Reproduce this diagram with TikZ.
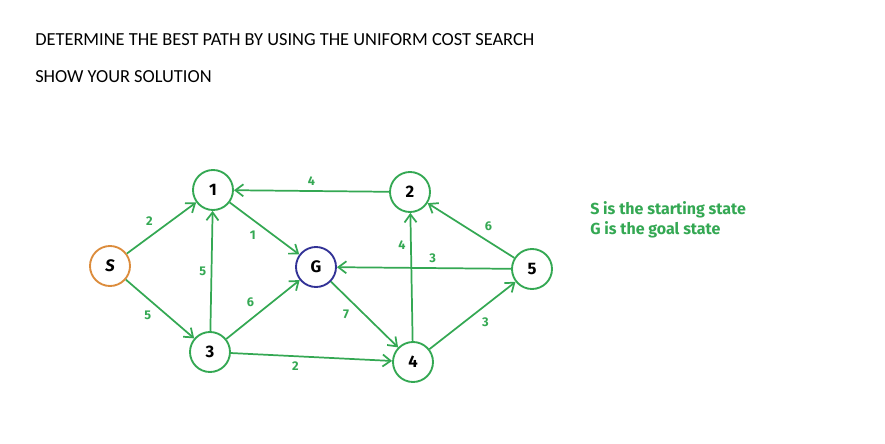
\documentclass[tikz,border=0pt]{standalone}
\usepackage{fontspec}
\setmainfont{Carlito}
\newfontfamily\lbl{Fira Sans}
\usetikzlibrary{arrows.meta}
\definecolor{gr}{RGB}{52,168,83}
\definecolor{og}{RGB}{220,140,60}
\definecolor{bl}{RGB}{50,50,150}
\begin{document}
\begin{tikzpicture}[x=0.75pt,y=-0.75pt,
  st/.style={circle,draw=gr,line width=1.4pt,minimum size=30pt,inner sep=0pt,font=\lbl\bfseries\fontsize{12.5}{13}\selectfont},
  ed/.style={draw=gr,line width=1.3pt,-{Straight Barb[length=6pt,width=9pt]}},
  wt/.style={text=gr,font=\lbl\bfseries\fontsize{9.5}{10}\selectfont}]
\useasboundingbox (0,0) rectangle (885,443);
\node[anchor=west,inner sep=0pt,font=\fontsize{13.8}{15}\selectfont] (t1) at (35,40) {DETERMINE THE BEST PATH BY USING THE UNIFORM COST SEARCH};
\node[anchor=west,inner sep=0pt,font=\fontsize{13.8}{15}\selectfont] (t2) at (35,77) {SHOW YOUR SOLUTION};
\node[st,draw=og] (S) at (110,266) {\itshape S};
\node[st] (n1) at (213,190) {1};
\node[st] (n2) at (410,192) {2};
\node[st,draw=bl] (G) at (316,267) {G};
\node[st] (n5) at (532,269) {5};
\node[st] (n3) at (210,352) {3};
\node[st] (n4) at (413,362) {4};
\draw[ed] (S) -- node[wt,above left,pos=0.45]{2} (n1);
\draw[ed] (S) -- node[wt,below left,pos=0.45]{5} (n3);
\draw[ed] (n3) -- node[wt,left]{5} (n1);
\draw[ed] (n1) -- node[wt,below left,pos=0.45]{1} (G);
\draw[ed] (n2) -- node[wt,above]{4} (n1);
\draw[ed] (n3) -- node[wt,above left,pos=0.45]{6} (G);
\draw[ed] (n3) -- node[wt,below,pos=0.4]{2} (n4);
\draw[ed] (G) -- node[wt,below left,pos=0.35]{7} (n4);
\draw[ed] (n4) -- node[wt,left,pos=0.75]{4} (n2);
\draw[ed] (n5) -- node[wt,above,pos=0.45]{3} (G);
\draw[ed] (n5) -- node[wt,above right,pos=0.4]{6} (n2);
\draw[ed] (n4) -- node[wt,below right,pos=0.55]{3} (n5);
\node[anchor=north west,inner sep=0pt,align=left,text=gr,font=\lbl\bfseries\fontsize{12}{15}\selectfont] (leg) at (590,201) {S is the starting state\\G is the goal state};
\end{tikzpicture}
\end{document}
